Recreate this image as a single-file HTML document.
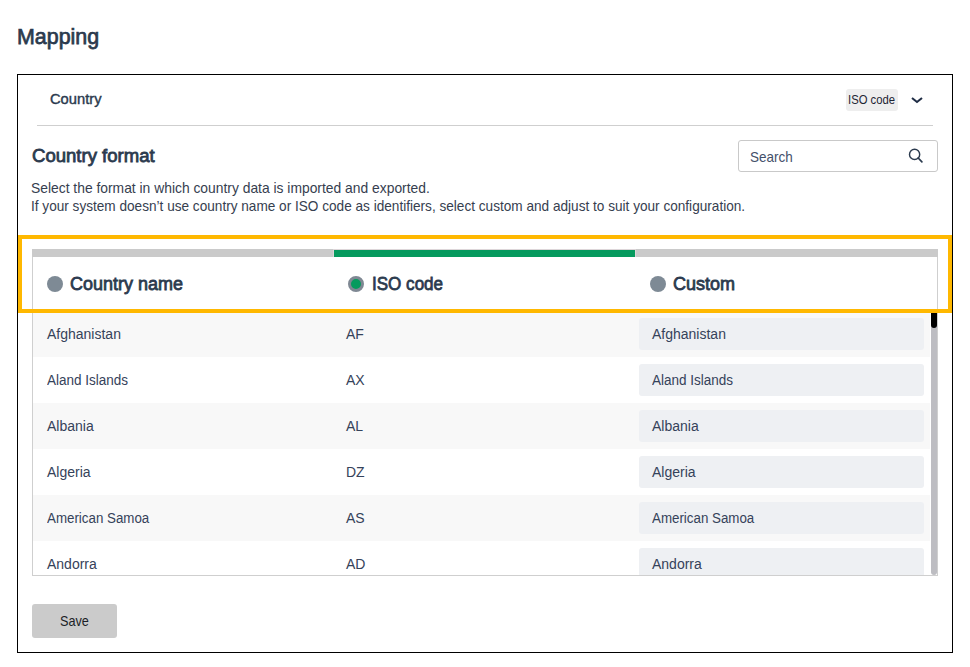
<!DOCTYPE html>
<html><head><meta charset="utf-8">
<style>
*{box-sizing:border-box;margin:0;padding:0}
html,body{width:970px;height:667px;overflow:hidden;background:#fff}
body{position:relative;font-family:"Liberation Sans",sans-serif;color:#2f3b4c}
.a{position:absolute}
.t{position:absolute;white-space:nowrap;line-height:1;transform-origin:0 0}
#title{left:18px;top:25px;font-size:22px;font-weight:normal;-webkit-text-stroke:0.75px #2b3a4e;color:#2b3a4e}
#box{left:17px;top:74px;width:936px;height:579px;border:1px solid #000}
#lbl{left:51px;top:91px;font-size:14px;font-weight:normal;-webkit-text-stroke:0.4px #2b3a4e;color:#2b3a4e}
#div{left:37px;top:125px;width:896px;height:1px;background:#cfcfcf}
#badge{left:846px;top:89px;width:52px;height:22px;background:#eeeeee;border-radius:3px}
#badgeT{left:849px;top:93px;font-size:12px;color:#1d2433}
#chev{left:910px;top:95px}
#cf{left:32px;top:146px;font-size:18px;font-weight:normal;-webkit-text-stroke:0.8px #2b3a4e;color:#2b3a4e}
#search{left:738px;top:140px;width:200px;height:32px;border:1px solid #c9c9c9;border-radius:3px}
#searchT{left:751px;top:149px;font-size:14px;color:#44506a}
#sicon{left:907px;top:147px}
.desc{font-size:13px;color:#36404f;left:32px}
#d1{top:181px}
#d2{top:199px}
#table{left:32px;top:249px;width:906px;height:327px;border:1px solid #cfcfcf;border-top:0}
#bar{left:32px;top:249px;width:906px;height:8px;background:#cacaca}
#green{left:333px;top:249px;width:303px;height:8px;background:#ddd6d9}
#green i{position:absolute;left:1px;top:1px;width:301px;height:7px;background:#069a5e}
.radio{position:absolute;width:16px;height:16px;border-radius:50%;background:#7e8a95;top:276px}
.radio.on{background:#059a5d;border:3px solid #7f8893}
.hd{font-size:18px;font-weight:normal;-webkit-text-stroke:0.8px #2b3a4e;color:#2b3a4e;top:274px}
.row{position:absolute;left:0;width:897px;height:46px}
.g{background:#f8f8f8}
.cell{position:absolute;font-size:14px;color:#35425a;white-space:nowrap;line-height:1;transform-origin:0 0}
.inp{position:absolute;left:606px;top:7px;width:285px;height:32px;background:#eef0f3;border-radius:3px}
#clip{left:33px;top:311px;width:898px;height:264px;overflow:hidden}
#track{left:931px;top:311px;width:6px;height:264px;background:#bdbdc2;border-radius:0 0 3px 3px}
#thumb{left:931px;top:311px;width:6px;height:17px;background:#000;border-radius:0 0 3px 3px}
#yellow{left:18px;top:235px;width:934px;height:78px;border:4px solid #ffb800}
#save{left:32px;top:604px;width:85px;height:34px;background:#cbcbcb;border-radius:3px}
#saveT{left:60px;top:613px;font-size:14px;color:#1b1f27}
/*FIT*/
#title{font-size:22.5px;left:17.15px;top:26px;transform:scaleX(0.9512)}
#lbl{font-size:14.5px;left:49.69px;top:92px;transform:scaleX(1.0140)}
#badgeT{font-size:12.5px;left:848.10px;top:94px;transform:scaleX(0.9020)}
#cf{font-size:18.7px;left:31.51px;top:147px;transform:scaleX(0.9927)}
#searchT{font-size:14.5px;left:750.37px;top:150px;transform:scaleX(0.9295)}
#d1{font-size:14.5px;left:31.34px;top:181px;transform:scaleX(0.9552)}
#d2{font-size:14.5px;left:31.36px;top:199px;transform:scaleX(0.9386)}
#h1{font-size:19px;left:69.45px;top:274px;transform:scaleX(0.9466)}
#h2{font-size:19px;left:371.10px;top:274px;transform:scaleX(0.8974)}
#h3{font-size:19px;left:672.05px;top:274px;transform:scaleX(0.9484)}
#saveT{font-size:14.5px;left:59.62px;top:614px;transform:scaleX(0.8750)}
/*ENDFIT*/
</style></head><body>
<div id="title" class="t">Mapping</div>
<div id="box" class="a"></div>
<div id="lbl" class="t">Country</div>
<div id="div" class="a"></div>
<div id="badge" class="a"></div>
<div id="badgeT" class="t">ISO code</div>
<svg id="chev" class="a" width="14" height="10" viewBox="0 0 14 10"><path d="M2.0 3.0 L7 7.0 L12.0 3.0" fill="none" stroke="#1f2d45" stroke-width="2.1"/></svg>
<div id="cf" class="t">Country format</div>
<div id="search" class="a"></div>
<div id="searchT" class="t">Search</div>
<svg id="sicon" class="a" width="18" height="18" viewBox="0 0 18 18"><circle cx="7.6" cy="7.4" r="5.1" fill="none" stroke="#2b3a4e" stroke-width="1.45"/><path d="M11.2 11.0 L14.9 14.8" stroke="#2b3a4e" stroke-width="1.7" stroke-linecap="round"/></svg>
<div id="d1" class="t desc">Select the format in which country data is imported and exported.</div>
<div id="d2" class="t desc">If your system doesn’t use country name or ISO code as identifiers, select custom and adjust to suit your configuration.</div>

<div id="table" class="a"></div>
<div id="bar" class="a"></div>
<div id="green" class="a"><i></i></div>
<div class="radio" style="left:47px"></div>
<div class="t hd" style="left:70px" id="h1">Country name</div>
<div class="radio on" style="left:348px"></div>
<div class="t hd" style="left:372px" id="h2">ISO code</div>
<div class="radio" style="left:650px"></div>
<div class="t hd" style="left:673px" id="h3">Custom</div>

<div id="clip" class="a">
 <div class="row g" style="top:0"><div class="cell c1" style="left:14px;top:16px">Afghanistan</div><div class="cell c2" style="left:313px;top:16px">AF</div><div class="inp"></div><div class="cell c3" style="left:619px;top:16px">Afghanistan</div></div>
 <div class="row" style="top:46px"><div class="cell c1" style="left:14px;top:16px;transform:scaleX(0.965)">Aland Islands</div><div class="cell c2" style="left:313px;top:16px">AX</div><div class="inp"></div><div class="cell c3" style="left:619px;top:16px;transform:scaleX(0.965)">Aland Islands</div></div>
 <div class="row g" style="top:92px"><div class="cell c1" style="left:14px;top:16px">Albania</div><div class="cell c2" style="left:313px;top:16px">AL</div><div class="inp"></div><div class="cell c3" style="left:619px;top:16px">Albania</div></div>
 <div class="row" style="top:138px"><div class="cell c1" style="left:14px;top:16px">Algeria</div><div class="cell c2" style="left:313px;top:16px">DZ</div><div class="inp"></div><div class="cell c3" style="left:619px;top:16px">Algeria</div></div>
 <div class="row g" style="top:184px"><div class="cell c1" style="left:14px;top:16px;transform:scaleX(0.952)">American Samoa</div><div class="cell c2" style="left:313px;top:16px">AS</div><div class="inp"></div><div class="cell c3" style="left:619px;top:16px;transform:scaleX(0.952)">American Samoa</div></div>
 <div class="row" style="top:230px"><div class="cell c1" style="left:14px;top:16px">Andorra</div><div class="cell c2" style="left:313px;top:16px">AD</div><div class="inp"></div><div class="cell c3" style="left:619px;top:16px">Andorra</div></div>
</div>
<div id="track" class="a"></div>
<div id="thumb" class="a"></div>
<div id="yellow" class="a"></div>

<div id="save" class="a"></div>
<div id="saveT" class="t">Save</div>
</body></html>
